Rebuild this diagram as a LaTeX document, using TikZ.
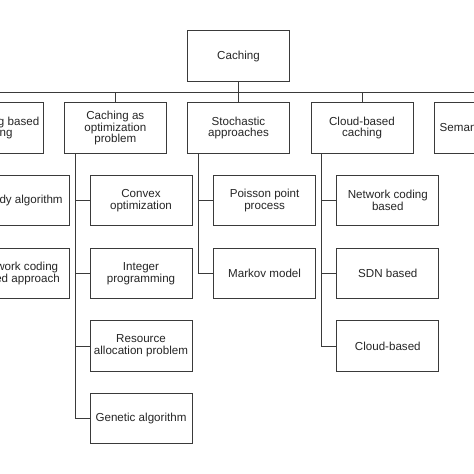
\documentclass[tikz,border=0pt]{standalone}
\usepackage{fontspec}
\setmainfont{Liberation Sans}
\definecolor{linegray}{HTML}{3A3A3A}
\definecolor{textgray}{HTML}{262626}
\tikzset{
  box/.style={draw=linegray, line width=1pt, minimum width=102pt, minimum height=50.5pt,
    align=center, font=\fontsize{11.6}{11.8}\selectfont, text=textgray, inner sep=1pt},
  conn/.style={draw=linegray, line width=1pt}
}
\begin{document}
\begin{tikzpicture}[x=1pt,y=-1pt]
\useasboundingbox (0,0) rectangle (474,474);
\clip (0,0) rectangle (474,474);
\fill[white] (0,0) rectangle (474,474);
% root
\node[box] (root) at (238.5,56) {Caching};
% level 1
\node[box] (l1) at (-7.5,128) {Prefetching based\\caching};
\node[box] (l2) at (115.3,128) {Caching as\\optimization\\problem};
\node[box] (l3) at (238.5,128) {Stochastic\\approaches};
\node[box] (l4) at (362,128) {Cloud-based\\caching};
\node[box] (l5) at (485.5,128) {Semantic caching};
% level 2
\node[box] (c11) at (18.2,200.5) {Greedy algorithm};
\node[box] (c12) at (18.2,273.5) {Network coding\\based approach};
\node[box] (c21) at (141,200.5) {Convex\\optimization};
\node[box] (c22) at (141,273.5) {Integer\\programming};
\node[box] (c23) at (141,346) {Resource\\allocation problem};
\node[box] (c24) at (141,418.5) {Genetic algorithm};
\node[box] (c31) at (264.6,200.5) {Poisson point\\process};
\node[box] (c32) at (264.6,273.5) {Markov model};
\node[box] (c41) at (387.8,200.5) {Network coding\\based};
\node[box] (c42) at (387.8,273.5) {SDN based};
\node[box] (c43) at (387.8,346) {Cloud-based};
% bus
\coordinate (busL) at (-7.5,92);
\coordinate (busR) at (485.5,92);
\draw[conn] (busL) -- (busR);
\draw[conn] (root.south) -- (root.south |- busL);
\foreach \n in {l1,l2,l3,l4,l5}{
  \draw[conn] (\n.north) -- (\n.north |- busL);
}
% trunks
\foreach \p/\cs in {l1/{c11,c12}, l2/{c21,c22,c23,c24}, l3/{c31,c32}, l4/{c41,c42,c43}}{
  \foreach \c in \cs {
    \draw[conn] ([xshift=-40.3pt]\p.south) |- (\c.west);
  }
}
\end{tikzpicture}
\end{document}
